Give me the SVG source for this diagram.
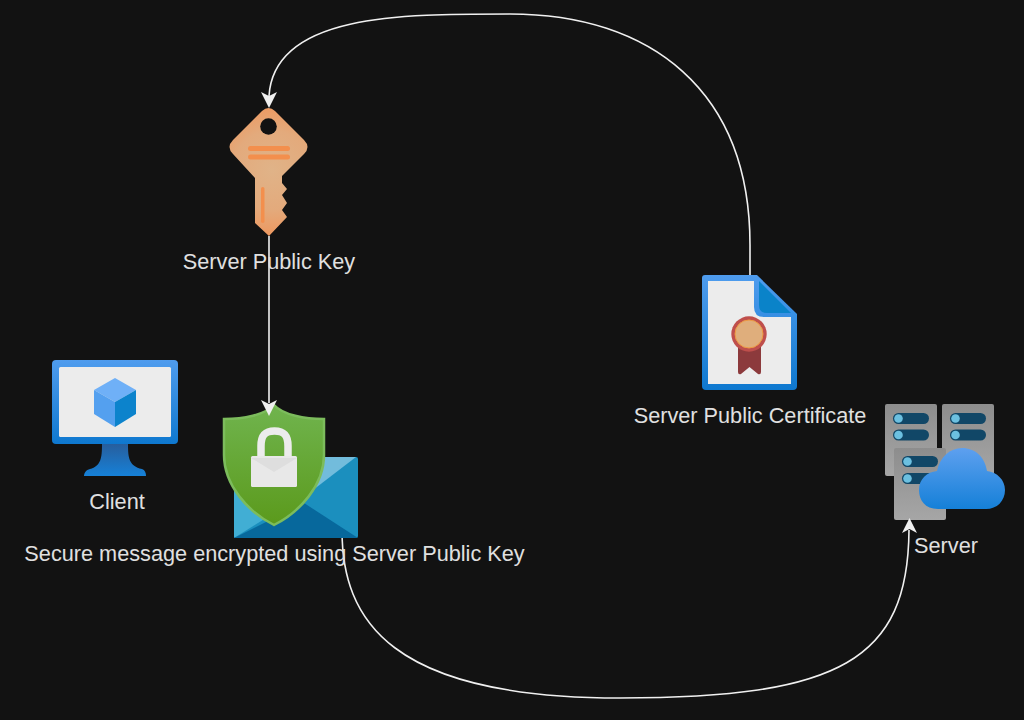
<svg xmlns="http://www.w3.org/2000/svg" width="1024" height="720" viewBox="0 0 1024 720">
<style>
.lbl{font-family:"Liberation Sans",Arial,sans-serif;font-size:21.7px;fill:#e0e0e0;text-anchor:middle}
.edge{fill:none;stroke:#f0f0f0;stroke-width:1.6}
.arrow{fill:#f0f0f0}
</style>
<defs>
<linearGradient id="keyG" x1="0" y1="0" x2="0" y2="1"><stop offset="0" stop-color="#f09a62"/><stop offset=".5" stop-color="#dfb084"/><stop offset="1" stop-color="#ef9559"/></linearGradient>
<radialGradient id="keyR" gradientUnits="userSpaceOnUse" cx="272" cy="170" r="72"><stop offset="0" stop-color="#e0b388"/><stop offset=".55" stop-color="#e3aa7c"/><stop offset="1" stop-color="#f09459"/></radialGradient>
<linearGradient id="monG" x1="0" y1="0" x2="0" y2="1"><stop offset="0" stop-color="#4f9cee"/><stop offset="1" stop-color="#0e78cf"/></linearGradient>
<linearGradient id="standG" x1="0" y1="0" x2="0" y2="1"><stop offset="0" stop-color="#275e9d"/><stop offset="1" stop-color="#1681d8"/></linearGradient>
<linearGradient id="shG" x1="0" y1="0" x2="0" y2="1"><stop offset="0" stop-color="#70b44e"/><stop offset="1" stop-color="#5b9a1c"/></linearGradient>
<linearGradient id="srvG" x1="0" y1="0" x2="0" y2="1"><stop offset="0" stop-color="#8d8d8d"/><stop offset="1" stop-color="#a6a6a6"/></linearGradient>
<linearGradient id="clG" x1="0" y1="0" x2="0" y2="1"><stop offset="0" stop-color="#5ea0ef"/><stop offset="1" stop-color="#1580d8"/></linearGradient>
<g id="bar"><rect x="0" y="0" width="36" height="11" rx="5.5" fill="#114767"/><circle cx="5.500" cy="5.500" r="4.300" fill="#6cc0e0"/></g>
</defs>
<rect width="1024" height="720" fill="#121212"/>
<g id="connectors">
<path class="edge" d="M750 275V245C750 90 650 14 510 14C400 14 274 14 269 96"/>
<path class="edge" d="M269 236V403"/>
<path class="edge" d="M342 530C342 620 390 698 620 698C840 698 908 660 909 530"/>
</g>
<g id="key">
<path fill="url(#keyR)" d="M262 111Q268.500 105 275 111L304 140Q311 147 304 154L282 176V183L287 189L282 195L287 203L282 210L287 217L269 236L255 223V178L233 154Q226 147 233 140Z"/>
<circle cx="268.500" cy="126.500" r="8.300" fill="#121212"/>
<rect x="248" y="146" width="42" height="5" rx="2.500" fill="#f38f4d"/><rect x="248" y="154.500" width="42" height="5" rx="2.500" fill="#f38f4d"/>
<rect x="261" y="187" width="3.500" height="36" rx="1.750" fill="#f38f4d"/>
<text class="lbl" x="269" y="269">Server Public Key</text>
</g>
<g id="client">
<rect x="52" y="360" width="126" height="84" rx="4" fill="url(#monG)"/>
<rect x="59" y="367" width="112" height="70" rx="1.500" fill="#ececec"/>
<path fill="url(#standG)" d="M102 444H128C128 458 129 466 142 469C145 470 146 473 146 476H84C84 473 86 470 90 469C101 466 102 458 102 444Z"/>
<path fill="#6fb0f7" d="M115 378L136 390L115 402L94 390Z"/>
<path fill="#54a0ef" d="M94 390L115 402V427L94 414Z"/>
<path fill="#0c83cc" d="M136 390L115 402V427L136 414Z"/>
<text class="lbl" x="117" y="509">Client</text>
</g>
<g id="message">
<rect x="234" y="457" width="124" height="81" rx="2" fill="#1b8fbe"/>
<path fill="#72bcdc" d="M356 457L296 503L250 520L296 457Z"/>
<path fill="#41aed4" d="M234 459L295 500L234 538Z"/>
<path fill="#1b8fbe" d="M358 459V536L305 500Z"/>
<path fill="#07689c" d="M234 538L304 503L358 538Z"/>
<path fill="url(#shG)" stroke="#7cbc5c" stroke-width="2.500" d="M274 405C283 415 305 419 324 419V455C324 485 300 512 274 525C248 512 224 485 224 455V419C243 419 265 415 274 405Z"/>
<path fill="none" stroke="#ececec" stroke-width="7.500" d="M261 457V446C261 435 265 431 274.500 431C284 431 288 435 288 446V457"/>
<rect x="251" y="456" width="46" height="31" rx="1.500" fill="#e8e8e8"/>
<path fill="#dedede" d="M251 458L274 472L297 458Z"/>
<text class="lbl" x="274.500" y="561">Secure message encrypted using Server Public Key</text>
</g>
<g id="certificate">
<path fill="url(#monG)" d="M705 275H757L797 314V386Q797 390 793 390H706Q702 390 702 386V278Q702 275 705 275Z"/>
<path fill="#ececec" d="M708 281H754V307Q754 317 764 317H791V384H708Z"/>
<path fill="#0a83c9" d="M759 281L791 313H767Q759 313 759 305Z"/>
<path fill="#8c3a3c" d="M738 345H761V372Q761 375 758 374L749.500 367L741 374Q738 375 738 372Z"/>
<circle cx="749" cy="334" r="17.700" fill="#bf4f4c"/><circle cx="749" cy="334" r="14" fill="#dfae7c" stroke="#ee9a42" stroke-width="1"/>
<text class="lbl" x="750" y="423">Server Public Certificate</text>
</g>
<g id="server">
<rect x="885" y="404" width="52" height="72" rx="2" fill="url(#srvG)"/>
<rect x="942" y="404" width="52" height="72" rx="2" fill="url(#srvG)"/>
<use href="#bar" x="893" y="413"/><use href="#bar" x="893" y="429.500"/>
<use href="#bar" x="950" y="413"/><use href="#bar" x="950" y="429.500"/>
<rect x="894" y="448" width="52" height="72" rx="2" fill="url(#srvG)"/>
<use href="#bar" x="902" y="456"/><use href="#bar" x="902" y="473"/>
<path fill="url(#clG)" d="M938 509C925 509 919 500 919 490C919 479 927 472 937 471C940 457 950 448 962 448C975 448 985 457 987 471C997 472 1005 480 1005 490C1005 501 997 509 986 509Z"/>
<text class="lbl" x="946" y="553">Server</text>
</g>
<g id="arrowheads">
<path class="arrow" d="M269 108L261 92L269 96L277 92Z"/>
<path class="arrow" d="M269 416L261 400L269 404L277 400Z"/>
<path class="arrow" d="M909.500 518L917 533L909.500 529L902 533Z"/>
</g>
</svg>
